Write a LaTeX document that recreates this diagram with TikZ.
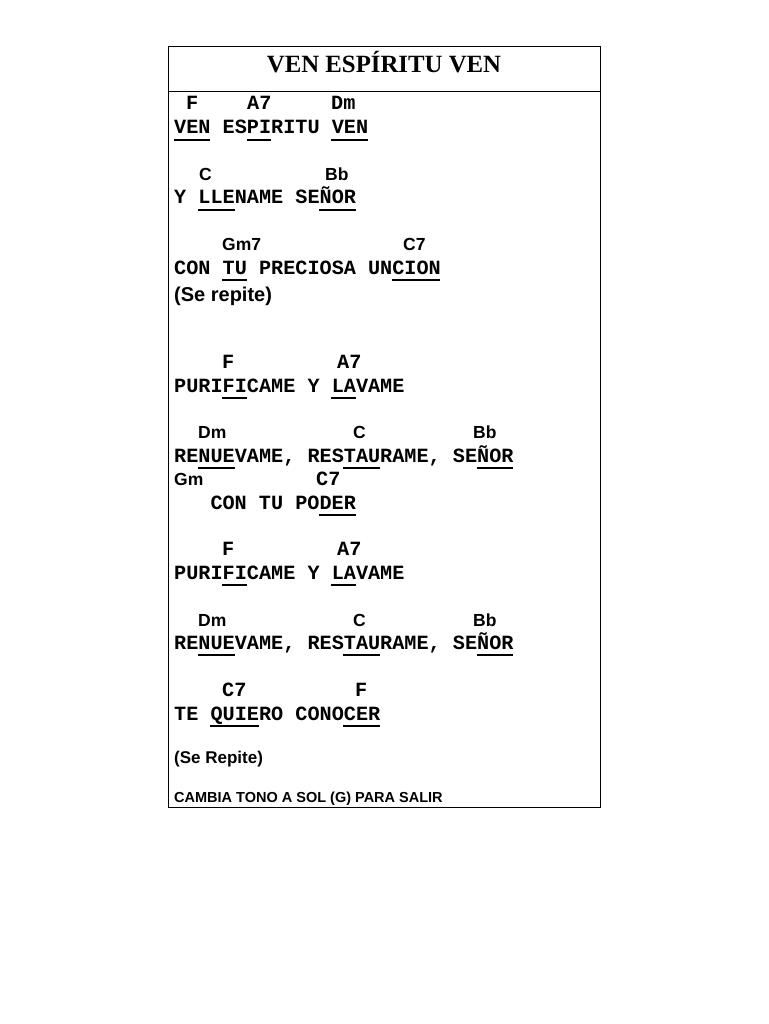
\documentclass[tikz,border=0pt]{standalone}
\usepackage{fontspec}
\setmainfont{Liberation Serif}
\newfontfamily\mono{Liberation Mono}
\newfontfamily\sans{Liberation Sans}
\begin{document}
\begin{tikzpicture}[x=1pt,y=-1pt,
  ly/.style={anchor=base west,inner sep=0pt,font=\mono\bfseries\fontsize{20.2}{20}\selectfont},
  chm/.style={anchor=base west,inner sep=0pt,font=\mono\bfseries\fontsize{20.2}{20}\selectfont},
  chs/.style={anchor=base west,inner sep=0pt,font=\sans\bfseries\fontsize{17.5}{17}\selectfont},
  ul/.style={line width=1.8pt}]
\useasboundingbox (0,0) rectangle (768,1024);
\def\xo{174}\def\cw{12.1}
\newcommand\myul[3]{\draw[ul] ({\xo+#2*\cw},#1+6) -- ({\xo+(#3+1)*\cw},#1+6);}
\draw[line width=0.8pt] (168,46) rectangle (600,807);
\draw[line width=0.8pt] (168,91) -- (600,91);
\node[font=\bfseries\fontsize{24.8}{25}\selectfont,inner sep=0pt] (title) at (384,62) {VEN ESPÍRITU VEN};
% 1
\node[chm] (c1a) at (186,110) {F};
\node[chm] (c1b) at (247,110) {A7};
\node[chm] (c1c) at (331,110) {Dm};
\node[ly] (l1) at (\xo,134) {VEN ESPIRITU VEN};
\myul{134}{0}{2}\myul{134}{6}{7}\myul{134}{13}{15}
% 2
\node[chs] (c2a) at (199,181) {C};
\node[chs] (c2b) at (325,181) {Bb};
\node[ly] (l2) at (\xo,204) {Y LLENAME SEÑOR};
\myul{204}{2}{4}\myul{204}{12}{14}
% 3
\node[chs] (c3a) at (222,251) {Gm7};
\node[chs] (c3b) at (403,251) {C7};
\node[ly] (l3) at (\xo,274) {CON TU PRECIOSA UNCION};
\myul{274}{4}{5}\myul{274}{18}{21}
\node[anchor=base west,inner sep=0pt,font=\sans\bfseries\fontsize{20}{20}\selectfont] (r1) at (\xo,301) {(Se repite)};
% 4
\node[chm] (c4a) at (222,368) {F};
\node[chm] (c4b) at (337,368) {A7};
\node[ly] (l4) at (\xo,392) {PURIFICAME Y LAVAME};
\myul{392}{4}{5}\myul{392}{13}{14}
% 5
\node[chs] (c5a) at (198,438) {Dm};
\node[chs] (c5b) at (353,438) {C};
\node[chs] (c5c) at (473,438) {Bb};
\node[ly] (l5) at (\xo,462) {RENUEVAME, RESTAURAME, SEÑOR};
\myul{462}{2}{4}\myul{462}{14}{16}\myul{462}{25}{27}
% 6
\node[chs] (c6a) at (174,485) {Gm};
\node[chm] (c6b) at (316,485) {C7};
\node[ly] (l6) at ({\xo+3*\cw},509) {CON TU PODER};
\myul{509}{12}{14}
% 7
\node[chm] (c7a) at (222,555) {F};
\node[chm] (c7b) at (337,555) {A7};
\node[ly] (l7) at (\xo,579) {PURIFICAME Y LAVAME};
\myul{579}{4}{5}\myul{579}{13}{14}
% 8
\node[chs] (c8a) at (198,626) {Dm};
\node[chs] (c8b) at (353,626) {C};
\node[chs] (c8c) at (473,626) {Bb};
\node[ly] (l8) at (\xo,649) {RENUEVAME, RESTAURAME, SEÑOR};
\myul{649}{2}{4}\myul{649}{14}{16}\myul{649}{25}{27}
% 9
\node[chm] (c9a) at (222,696) {C7};
\node[chm] (c9b) at (355,696) {F};
\node[ly] (l9) at (\xo,720) {TE QUIERO CONOCER};
\myul{720}{3}{6}\myul{720}{14}{16}
\node[anchor=base west,inner sep=0pt,font=\sans\bfseries\fontsize{17}{17}\selectfont] (r2) at (\xo,763) {(Se Repite)};
\node[anchor=base west,inner sep=0pt,font=\sans\bfseries\fontsize{14.5}{15}\selectfont] (r3) at (\xo,802) {CAMBIA TONO A SOL (G) PARA SALIR};
\end{tikzpicture}
\end{document}
